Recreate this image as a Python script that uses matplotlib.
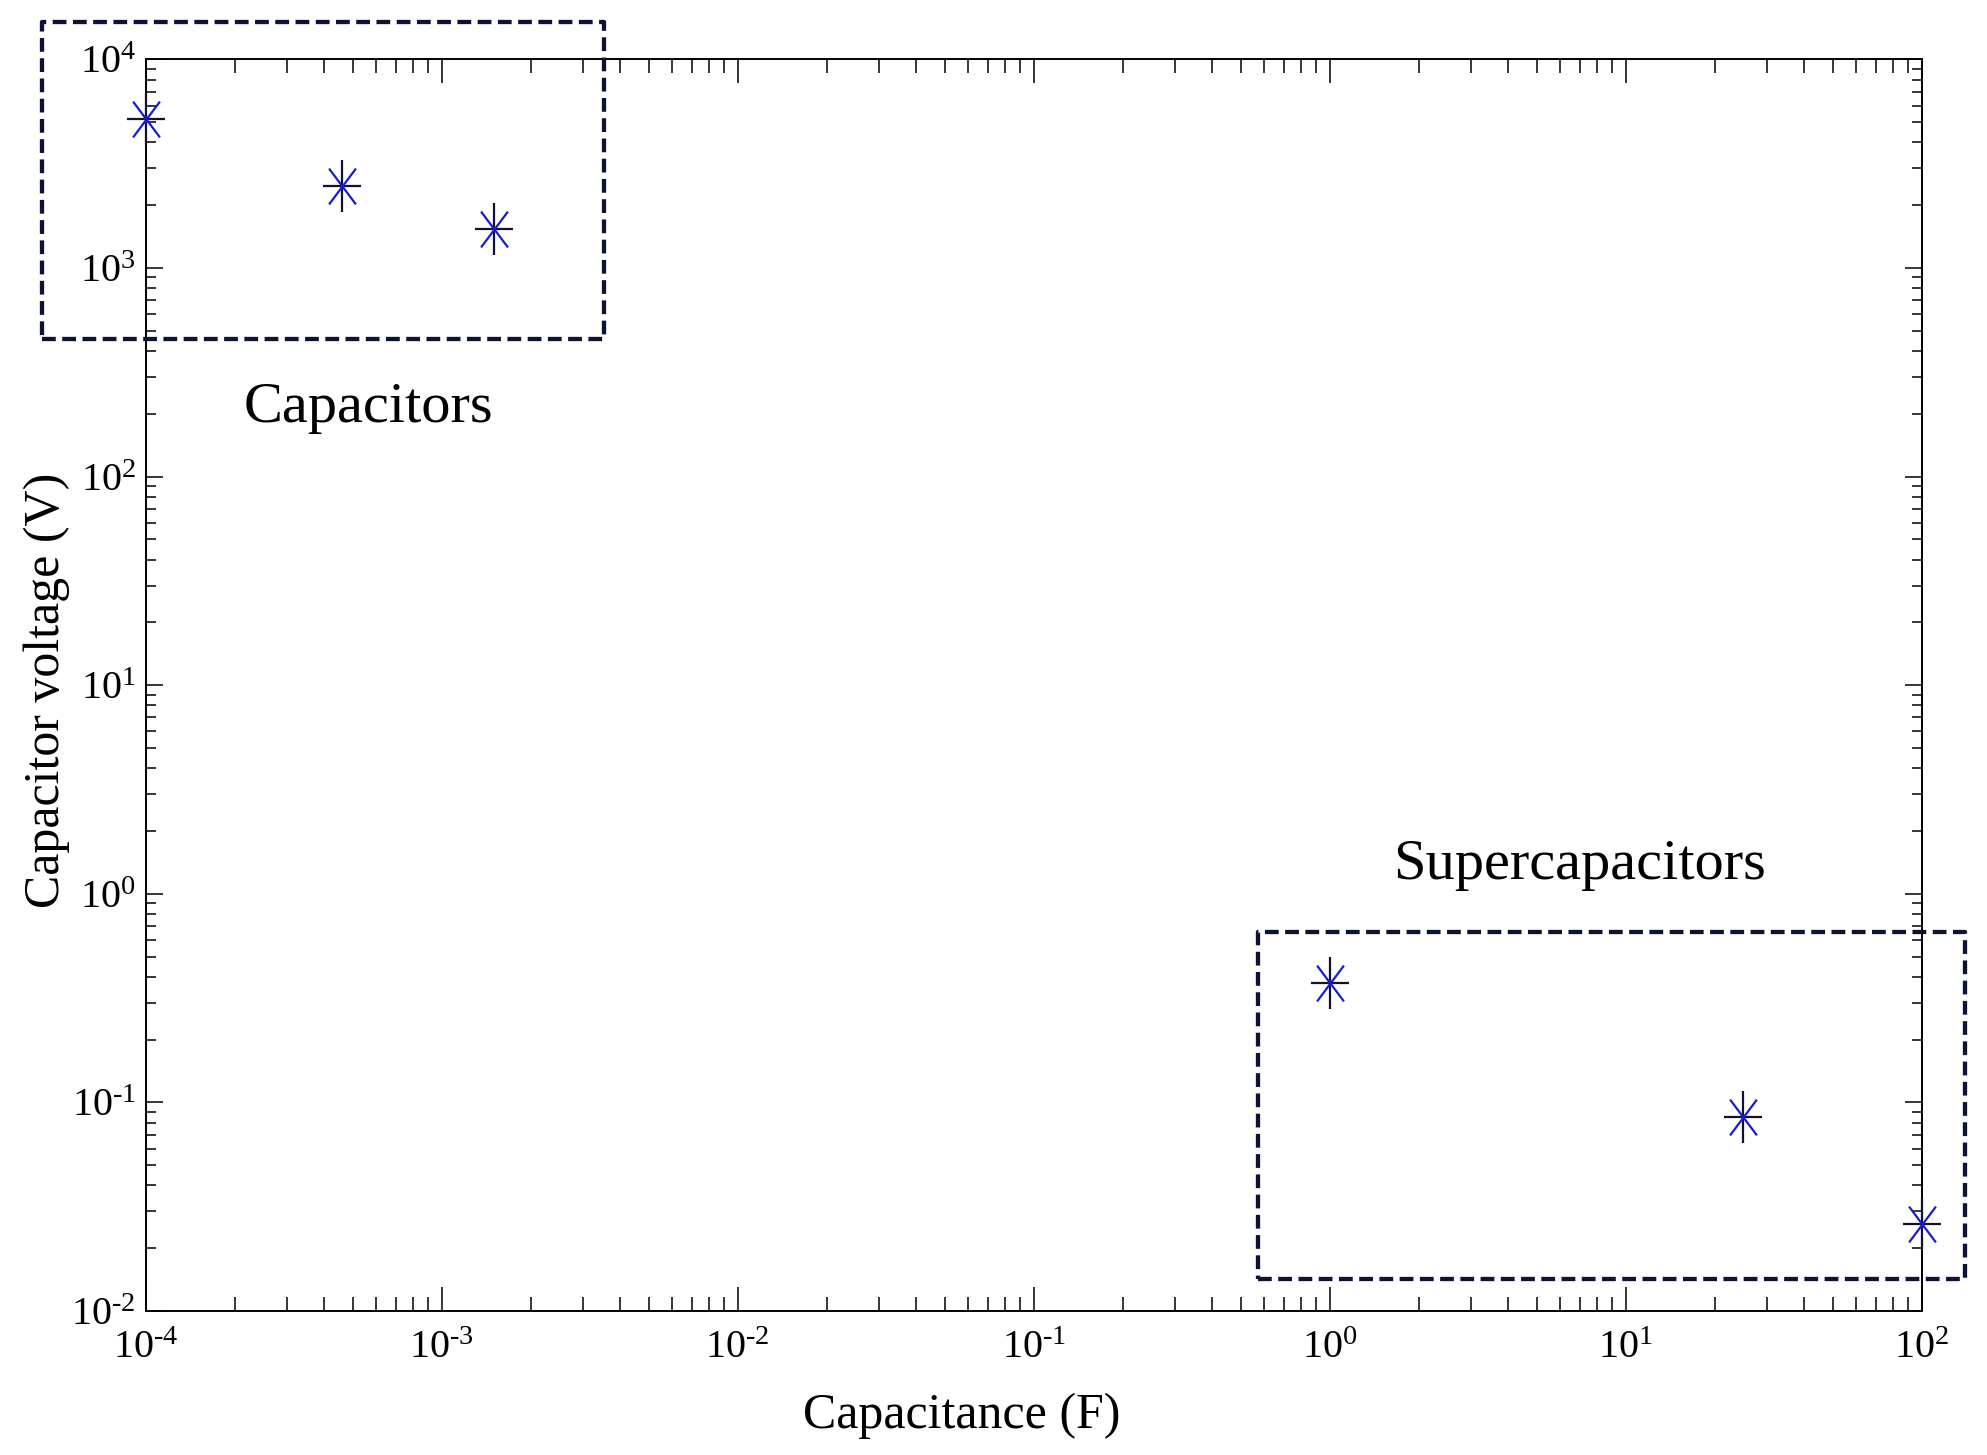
import numpy as np
import matplotlib
matplotlib.use("Agg")
import matplotlib.pyplot as plt
from matplotlib.path import Path
from matplotlib.ticker import LogLocator, FuncFormatter

plt.rcParams['font.family'] = ['Liberation Serif', 'DejaVu Serif']
plt.rcParams['mathtext.fontset'] = 'custom'
plt.rcParams['mathtext.rm'] = 'Liberation Serif'
plt.rcParams['mathtext.it'] = 'Liberation Serif:italic'

# data
capacitance = [1e-4, 4.6e-4, 1.5e-3, 1.0, 25.0, 100.0]
voltage = [5200, 2470, 1530, 0.375, 0.085, 0.026]

# dashed group boxes (data coords: x0, x1, y0, y1)
cap_box = [4.45e-5, 3.54e-3, 456, 15170]
super_box = [0.572, 139.8, 0.0142, 0.655]
cap_label = 'Capacitors'
super_label = 'Supercapacitors'


def pow10(v, pos):
    e = int(round(np.log10(v)))
    # matlab prints a short hyphen, not a math minus
    return r'$10^{\text{%d}}$' % e


fig = plt.figure(figsize=(19.87, 14.55), dpi=100)
ax = fig.add_axes([0.07333, 0.09897, 0.89381, 0.86027])
ax.set_xscale('log')
ax.set_yscale('log')
ax.set_xlim(1e-4, 1e2)
ax.set_ylim(1e-2, 1e4)

# matlab style asterisk: plus in dark, diagonals in blue
plus_mk = Path([(0, -1), (0, 1), (-0.75, 0), (0.75, 0)],
               [Path.MOVETO, Path.LINETO, Path.MOVETO, Path.LINETO])
diag_mk = Path([(-0.75, -1), (0.75, 1), (-0.75, 1), (0.75, -1)],
               [Path.MOVETO, Path.LINETO, Path.MOVETO, Path.LINETO])
ax.plot(capacitance, voltage, linestyle='none', marker=plus_mk, markersize=37.4,
        markeredgewidth=1.6, color='#111133', clip_on=False, zorder=3)
ax.plot(capacitance, voltage, linestyle='none', marker=diag_mk, markersize=25.8,
        markeredgewidth=1.6, color='#1a1ad6', clip_on=False, zorder=4)

for b in [cap_box, super_box]:
    ax.plot([b[0], b[1], b[1], b[0], b[0]], [b[2], b[2], b[3], b[3], b[2]],
            color='#0d1333', lw=3.1, linestyle=(0, (3.2, 1.5)), clip_on=False, zorder=5)

ax.text(5.67e-4, 182, cap_label, fontsize=42, ha='center', va='baseline')
ax.text(6.99, 1.18, super_label, fontsize=42, ha='center', va='baseline')

ax.set_xlabel('Capacitance (F)', fontsize=36, va='baseline')
ax.xaxis.set_label_coords(0.4595, -0.0935)
ax.set_ylabel('Capacitor voltage (V)', fontsize=36)
ax.yaxis.set_label_coords(-0.0425, 0.496)

for a in [ax.xaxis, ax.yaxis]:
    a.set_major_locator(LogLocator(base=10, numticks=20))
    a.set_minor_locator(LogLocator(base=10, subs=np.arange(2, 10), numticks=20))
    a.set_major_formatter(FuncFormatter(pow10))

ax.tick_params(which='both', direction='in', top=True, right=True, width=1.1, color='black')
ax.tick_params(axis='x', which='major', length=17, pad=14, labelsize=29)
ax.tick_params(axis='x', which='minor', length=10)
ax.tick_params(axis='y', which='major', length=12, pad=7, labelsize=29)
ax.tick_params(axis='y', which='minor', length=7)
for s in ax.spines.values():
    s.set_linewidth(1.4)

fig.savefig('out.png', dpi=100, facecolor='white')
